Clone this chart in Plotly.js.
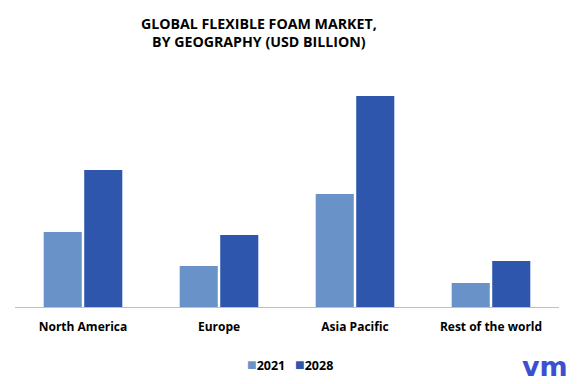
<!DOCTYPE html>
<html>
<head>
<meta charset="utf-8">
<script src="https://cdn.plot.ly/plotly-3.0.1.min.js"></script>
<style>html,body{margin:0;padding:0;background:#fff;}#chart{width:579px;height:384px;}</style>
</head>
<body>
<div id="chart"></div>
<script>
const categories = ["North America", "Europe", "Asia Pacific", "Rest of the world"];
const values2021 = [7.5, 4.1, 11.3, 2.4];
const values2028 = [13.7, 7.2, 21.1, 4.6];
const seriesNames = ["2021", "2028"];
const colors = ["#6992C9", "#2E56AD"];

const traces = [
  {type: "bar", name: seriesNames[0], x: categories, y: values2021,
   marker: {color: colors[0]}, hoverinfo: "none"},
  {type: "bar", name: seriesNames[1], x: categories, y: values2028,
   marker: {color: colors[1]}, hoverinfo: "none"}
];

const legendText = seriesNames.map((n, i) =>
  "<span style='color:" + colors[i] + ";font-size:16px'>■</span>" + n).join("   ");

const layout = {
  width: 579, height: 384,
  paper_bgcolor: "#ffffff", plot_bgcolor: "#ffffff",
  margin: {l: 15, r: 20, t: 80, b: 77},
  barmode: "group", bargap: 0.404, bargroupgap: 0.06,
  showlegend: false,
  title: {
    text: "<b>GLOBAL FLEXIBLE FOAM MARKET,<br>BY GEOGRAPHY (USD BILLION)</b>",
    font: {family: "Open Sans", size: 14.2, color: "#000000"},
    x: 0.447, xref: "container", xanchor: "center",
    y: 0.925, yref: "container", yanchor: "top"
  },
  xaxis: {
    showline: true, linecolor: "#BFBFBF", linewidth: 1,
    ticks: "outside", ticklen: 9, tickcolor: "rgba(0,0,0,0)",
    showgrid: false, zeroline: false,
    tickfont: {family: "Open Sans", size: 12, color: "#000000", weight: "bold"},
    fixedrange: true
  },
  yaxis: {
    range: [0, 22.7], visible: false, showgrid: false, zeroline: false, fixedrange: true
  },
  annotations: [
    {
      text: legendText, xref: "paper", yref: "paper", x: 0.505, y: -0.25,
      xanchor: "center", yanchor: "middle", showarrow: false,
      font: {family: "Open Sans", size: 12.5, color: "#000000", weight: "bold"}
    },
    {
      text: "vm", xref: "paper", yref: "paper", x: 1.02, y: -0.26,
      xanchor: "right", yanchor: "middle", showarrow: false,
      font: {family: "DejaVu Sans", size: 27, color: "#3C4FD0", weight: "bold"}
    }
  ]
};

Plotly.newPlot("chart", traces, layout, {displayModeBar: false, staticPlot: true});
</script>
</body>
</html>
